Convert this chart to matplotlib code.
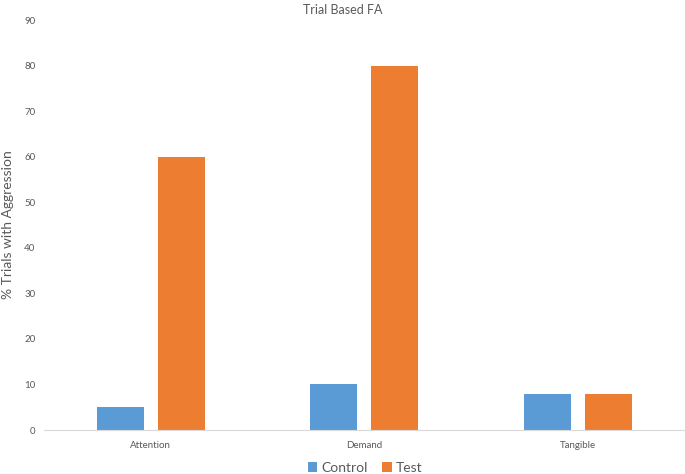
import numpy as np
import matplotlib
matplotlib.use('Agg')
import matplotlib.pyplot as plt

# Data
categories = ['Attention', 'Demand', 'Tangible']
control = [5, 10, 8]
test = [60, 80, 8]
y_ticks = [0, 10, 20, 30, 40, 50, 60, 70, 80, 90]

plt.rcParams['font.family'] = ['Lato', 'DejaVu Sans']
grey = '#595959'

fig = plt.figure(figsize=(6.85, 4.74), dpi=100)
ax = fig.add_axes([0.064, 0.0928, 0.936, 0.865])

x = np.arange(len(categories))
w = 0.22
ax.bar(x - 0.143, control, w, color='#5B9BD5', label='Control')
ax.bar(x + 0.143, test, w, color='#ED7D31', label='Test')

ax.set_xlim(-0.5, 2.5)
ax.set_ylim(0, 90)
ax.set_yticks(y_ticks)
ax.set_xticks(x)
ax.set_xticklabels(categories)
ax.tick_params(axis='x', length=0, labelsize=7, labelcolor=grey, pad=8)
ax.tick_params(axis='y', length=0, labelsize=7, labelcolor=grey, pad=6)

for s in ['top', 'right', 'left']:
    ax.spines[s].set_visible(False)
ax.spines['bottom'].set_color('#D9D9D9')

ax.set_ylabel('% Trials with Aggression', fontsize=10, color=grey)
ax.yaxis.set_label_coords(-0.046, 0.5)
fig.text(0.5, 0.978, 'Trial Based FA', ha='center', va='center', fontsize=9, color=grey)

leg = fig.legend(loc='center', bbox_to_anchor=(0.533, 0.013), ncol=2, frameon=False,
                 fontsize=10, handlelength=0.7, handleheight=0.7, handletextpad=0.3,
                 columnspacing=1.0, labelcolor=grey)

fig.savefig('out.png', dpi=100)
